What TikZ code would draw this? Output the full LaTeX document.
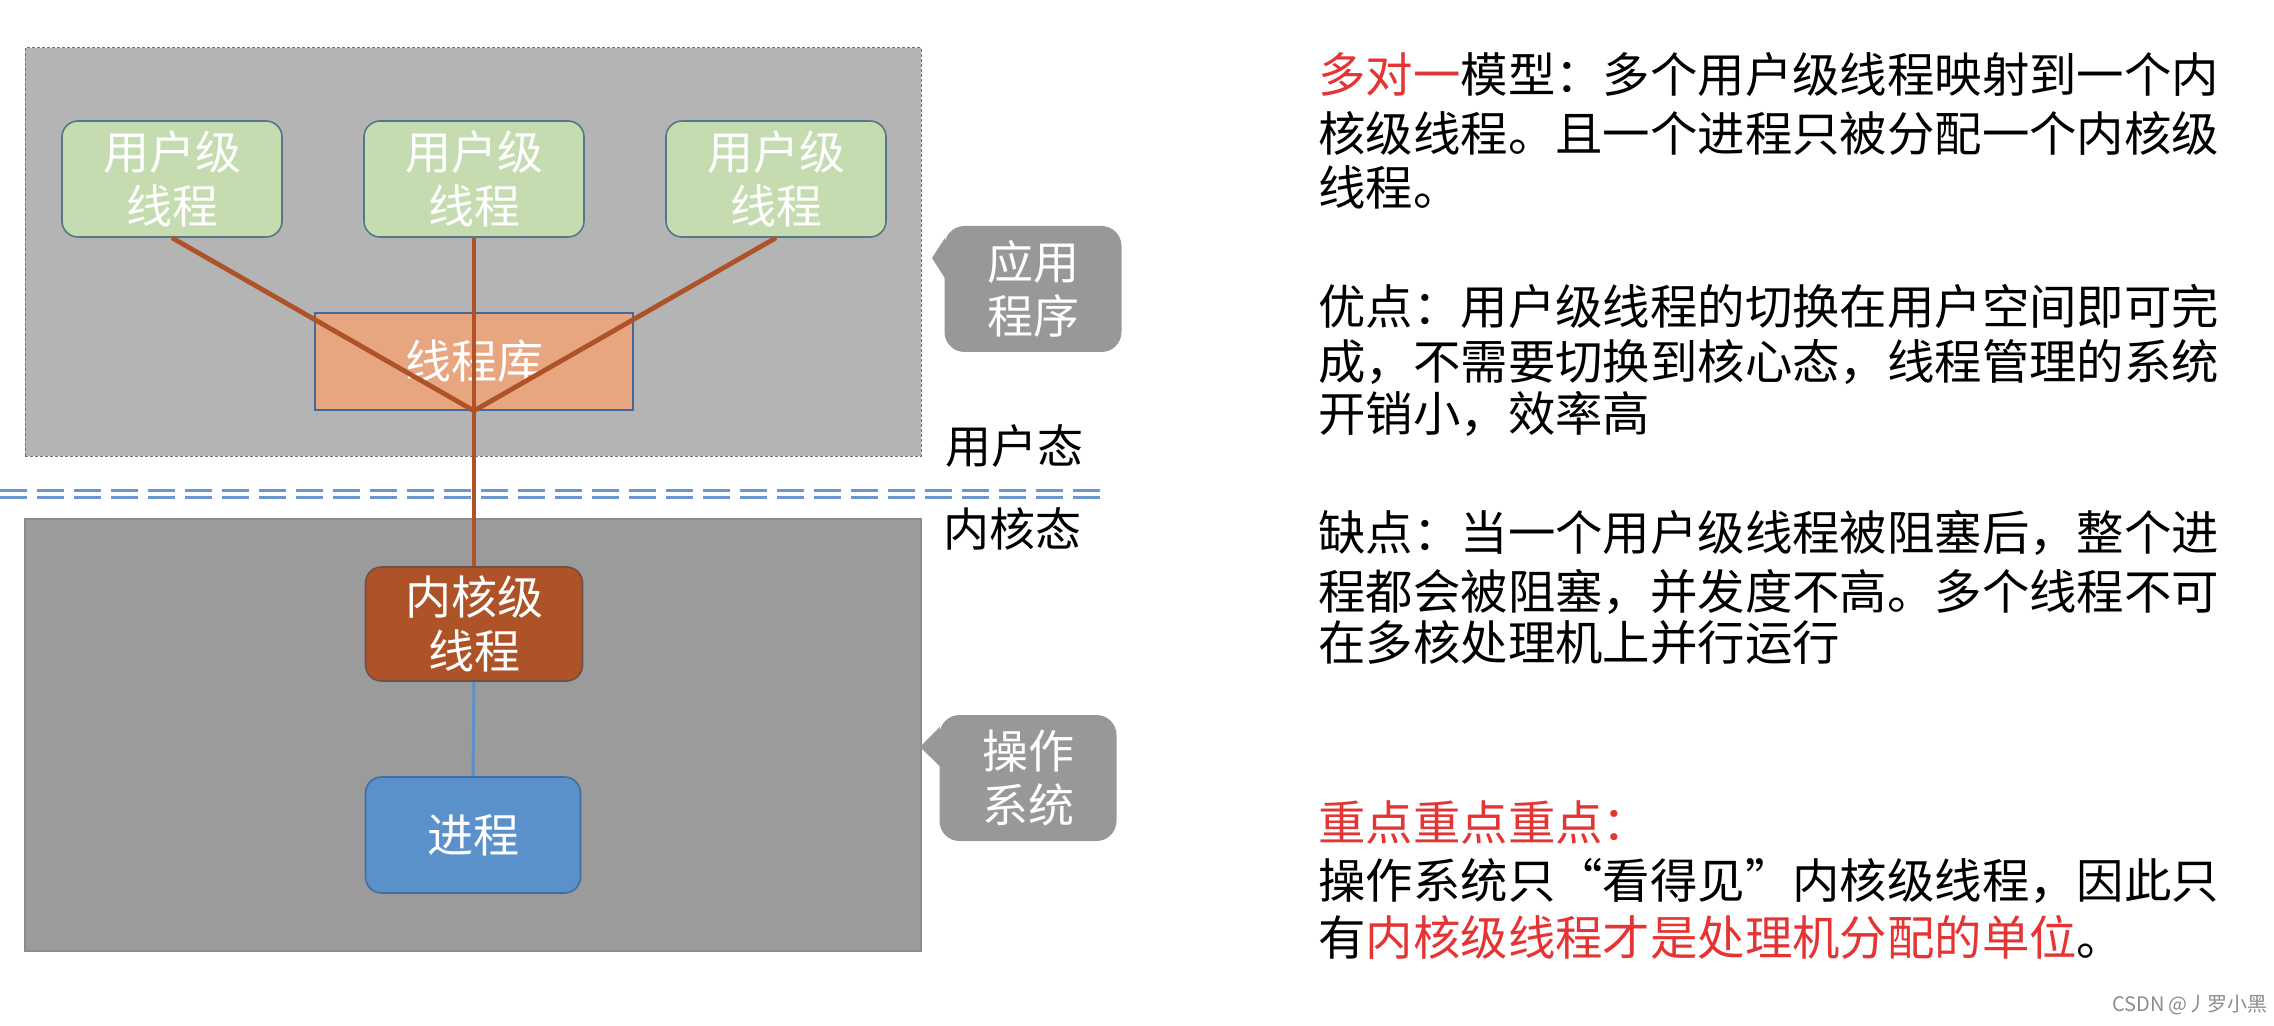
\documentclass[tikz,border=0pt]{standalone}
\usepackage{fontspec}
\setmainfont{Noto Sans CJK SC}
\usepackage{xcolor}
\usepackage{tikz}
\usetikzlibrary{calc}

\definecolor{ugray}{RGB}{180,180,180}
\definecolor{kgray}{RGB}{155,155,155}
\definecolor{callgray}{RGB}{152,152,152}
\definecolor{ugreen}{RGB}{197,220,176}
\definecolor{ugline}{RGB}{85,120,135}
\definecolor{libfill}{RGB}{232,166,128}
\definecolor{libline}{RGB}{70,105,155}
\definecolor{brown}{RGB}{174,82,40}
\definecolor{ktline}{RGB}{110,80,70}
\definecolor{pblue}{RGB}{91,145,203}
\definecolor{pline}{RGB}{65,110,160}
\definecolor{sepblue}{RGB}{105,150,205}
\definecolor{hl}{RGB}{228,52,52}

\begin{document}
\begin{tikzpicture}[
  x=0.5pt, y=-0.5pt,
  font=\fontsize{23}{27}\selectfont,
  region/.style={minimum width=448pt, inner sep=0pt},
  ubox/.style={draw=ugline, fill=ugreen, line width=0.8pt, rounded corners=8pt, text=white, align=center, minimum width=110pt, minimum height=58pt, inner sep=0pt},
  libbox/.style={draw=libline, fill=libfill, line width=0.8pt, text=white, minimum width=159pt, minimum height=48.5pt, inner sep=0pt},
  ktbox/.style={draw=ktline, fill=brown, line width=0.8pt, rounded corners=8pt, text=white, align=center, minimum width=108.5pt, minimum height=57pt, inner sep=0pt},
  pbox/.style={draw=pline, fill=pblue, line width=0.8pt, rounded corners=8pt, text=white, minimum width=107.5pt, minimum height=58pt, inner sep=0pt},
  callbox/.style={fill=callgray, rounded corners=10pt, text=white, align=center, minimum width=88.5pt, minimum height=63pt, inner sep=0pt},
  thr/.style={draw=brown, line width=2.4pt},
  prl/.style={draw=pblue, line width=1.5pt},
  sep/.style={draw=sepblue, line width=1.5pt, double=white, double distance=2pt, dash pattern=on 13.5pt off 5pt},
  para/.style={anchor=west, inner sep=0pt, font=\fontsize{23.7}{28}\selectfont},
  wmark/.style={text=black!45, font=\fontsize{10}{12}\selectfont, inner sep=0pt}
]
  \useasboundingbox (0,0) rectangle (2274,1026);

  % user space / kernel space areas
  \node[region, fill=ugray, draw=black!55, line width=0.5pt, dash pattern=on 1.5pt off 1pt, minimum height=204pt] (ureg) at (473,252) {};
  \node[region, fill=kgray, draw=black!45, line width=0.6pt, minimum height=216pt] (kreg) at (473,735) {};

  % separator
  \coordinate (sepl) at (0,493.5);
  \coordinate (sepr) at (1106,493.5);
  \draw[sep] (sepl) -- (sepr);

  \node (ust) at (1014,446) {用户态};
  \node (kst) at (1012,529) {内核态};

  % threads
  \node[ubox] (u1) at (172,179) {用户级\\线程};
  \node[ubox] (u2) at (474,179) {用户级\\线程};
  \node[ubox] (u3) at (776,179) {用户级\\线程};
  \node[libbox] (lib) at (474,361.5) {线程库};
  \node[ktbox] (kt) at (474,624) {内核级\\线程};
  \node[pbox] (pr) at (473,835) {进程};

  \draw[thr] (u1.south) -- (lib.south);
  \draw[thr] (u3.south) -- (lib.south);
  \draw[thr] (u2.south) -- (kt.north);
  \draw[prl] (kt.south) -- (pr.north);

  % callouts
  \node[callbox] (capp) at (1033,289) {应用\\程序};
  \coordinate (capptip) at (932,258);
  \fill[callgray] ($(capp.north west)+(1,12)$) -- (capptip) -- ($(capp.north west)+(1,53)$) -- cycle;

  \node[callbox] (cos) at (1028,778) {操作\\系统};
  \coordinate (costip) at (920,747);
  \fill[callgray] ($(cos.north west)+(1,12)$) -- (costip) -- ($(cos.north west)+(1,52)$) -- cycle;

  % notes
  \foreach \n/\y/\s in {
    t1/75/{\textcolor{hl}{多对一}模型：多个用户级线程映射到一个内},
    t2/133/{核级线程。且一个进程只被分配一个内核级},
    t3/187/{线程。},
    t4/306/{优点：用户级线程的切换在用户空间即可完},
    t5/362/{成，不需要切换到核心态，线程管理的系统},
    t6/414/{开销小，效率高},
    t7/533/{缺点：当一个用户级线程被阻塞后，整个进},
    t8/592/{程都会被阻塞，并发度不高。多个线程不可},
    t9/643/{在多核处理机上并行运行},
    t10/822/{\textcolor{hl}{重点重点重点：}},
    t11/881/{操作系统只“看得见”内核级线程，因此只},
    t12/937/{有\textcolor{hl}{内核级线程才是处理机分配的单位}。}} {
    \node[para] (\n) at (1318,\y) {\s};
  }

  \node[wmark] (wm) at (2190,1005) {CSDN @丿罗小黑};
\end{tikzpicture}
\end{document}
